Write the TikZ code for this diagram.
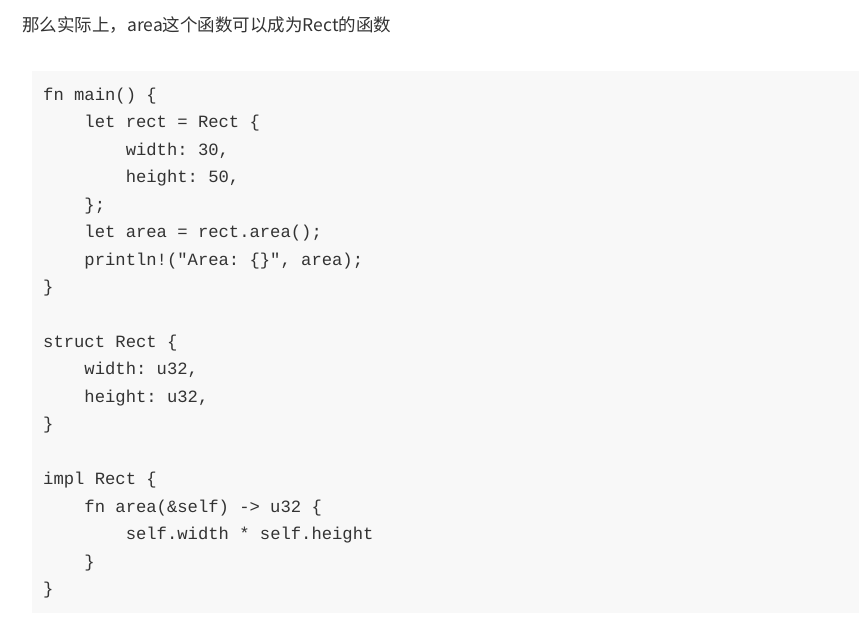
\documentclass[tikz,border=0pt]{standalone}
\usepackage{fontspec}
\setmonofont{Liberation Mono}
\newfontfamily\cjk{Noto Sans CJK SC}
\definecolor{codebg}{HTML}{F8F8F8}
\definecolor{txt}{HTML}{333333}
\begin{document}
\begin{tikzpicture}[x=1pt,y=-1pt,
  codeline/.style={anchor=base west,inner sep=0pt,font=\ttfamily\fontsize{17.2}{20}\selectfont,text=txt}]
\useasboundingbox (0,0) rectangle (859,635);
\fill[white] (0,0) rectangle (859,635);
\fill[codebg] (32,71) rectangle (859,613);
\node[anchor=base west,inner sep=0pt,font=\cjk\fontsize{17.5}{20}\selectfont,text=txt] (title) at (22,31) {那么实际上，area这个函数可以成为Rect的函数};
\def\L#1#2#3{\node[codeline] (#1) at (43,#2+6) {\obeyspaces#3};}
\node[codeline] (l1) at (43,100) {fn main() \{};
\node[codeline] (l2) at (43,127) {\ \ \ \ let rect = Rect \{};
\node[codeline] (l3) at (43,155) {\ \ \ \ \ \ \ \ width: 30,};
\node[codeline] (l4) at (43,182) {\ \ \ \ \ \ \ \ height: 50,};
\node[codeline] (l5) at (43,210) {\ \ \ \ \};};
\node[codeline] (l6) at (43,237) {\ \ \ \ let area = rect.area();};
\node[codeline] (l7) at (43,265) {\ \ \ \ println!("Area: \{\}", area);};
\node[codeline] (l8) at (43,292) {\}};
\node[codeline] (l9) at (43,347) {struct Rect \{};
\node[codeline] (l10) at (43,374) {\ \ \ \ width: u32,};
\node[codeline] (l11) at (43,402) {\ \ \ \ height: u32,};
\node[codeline] (l12) at (43,429) {\}};
\node[codeline] (l13) at (43,484) {impl Rect \{};
\node[codeline] (l14) at (43,512) {\ \ \ \ fn area(\&self) -> u32 \{};
\node[codeline] (l15) at (43,539) {\ \ \ \ \ \ \ \ self.width * self.height};
\node[codeline] (l16) at (43,567) {\ \ \ \ \}};
\node[codeline] (l17) at (43,594) {\}};
\end{tikzpicture}
\end{document}
